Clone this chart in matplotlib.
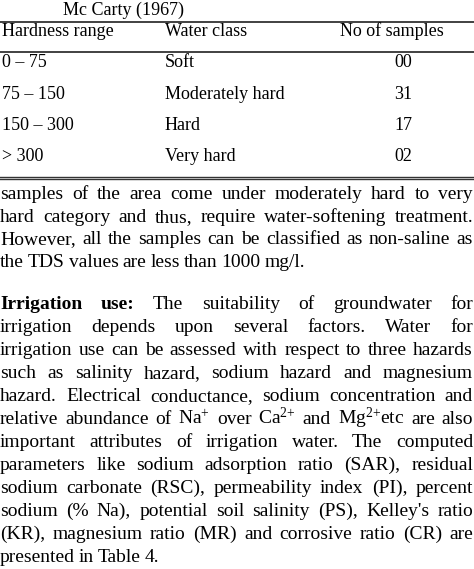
import matplotlib
matplotlib.use("Agg")
import matplotlib.pyplot as plt
from matplotlib.lines import Line2D

plt.rcParams['font.family'] = 'Liberation Serif'
plt.rcParams['mathtext.fontset'] = 'custom'
plt.rcParams['mathtext.rm'] = 'Liberation Serif'
plt.rcParams['mathtext.it'] = 'Liberation Serif:italic'
plt.rcParams['mathtext.bf'] = 'Liberation Serif:bold'
plt.rcParams['mathtext.default'] = 'regular'

W, H = 474, 569
caption = "Mc Carty (1967)"
headers = ["Hardness range", "Water class", "No of samples"]
ranges = ["0 – 75", "75 – 150", "150 – 300", "> 300"]
classes = ["Soft", "Moderately hard", "Hard", "Very hard"]
counts = ["00", "31", "17", "02"]

para1 = [
    "samples of the area come under moderately hard to very",
    "hard category and thus, require water-softening treatment.",
    "However, all the samples can be classified as non-saline as",
    "the TDS values are less than 1000 mg/l.",
]
para2 = [
    "**Irrigation **use: The suitability of groundwater for",
    "irrigation depends upon several factors. Water for",
    "irrigation use can be assessed with respect to three hazards",
    "such as salinity hazard, sodium hazard and magnesium",
    "hazard. Electrical conductance, sodium concentration and",
    "relative abundance of Na$^{+}$ over Ca$^{2{+}}$ and Mg$^{2{+}}$etc are also",
    "important attributes of irrigation water. The computed",
    "parameters like sodium adsorption ratio (SAR), residual",
    "sodium carbonate (RSC), permeability index (PI), percent",
    "sodium (% Na), potential soil salinity (PS), Kelley's ratio",
    "(KR), magnesium ratio (MR) and corrosive ratio (CR) are",
    "presented in Table 4.",
]

fig = plt.figure(figsize=(W / 100, H / 100), dpi=100)
FS = 14
TFS = 13

def T(x, y, s, fs=FS, **kw):
    # y is the visual centre line of lower-case text; place baseline below it
    return fig.text(x / W, 1 - (y + 0.3 * fs) / H, s, fontsize=fs, va='baseline', **kw)

def hline(y, lw=1.3):
    fig.add_artist(Line2D([0, 1], [1 - y / H] * 2, color='#333333', lw=lw))

T(63, 11, caption, fs=TFS)
hline(21.5)
T(2, 32, headers[0], fs=TFS); T(165, 32, headers[1], fs=TFS); T(340, 32, headers[2], fs=TFS)
hline(52)
rows_y = [63, 95, 126, 157]
for y, r, c, n in zip(rows_y, ranges, classes, counts):
    T(2, y, r, fs=TFS); T(165, y, c, fs=TFS); T(403, y, n, fs=TFS, ha='center')
hline(176.5, 1.0); hline(179, 1.0)

renderer = fig.canvas.get_renderer()

def justify(lines, y0, dy, left=0, right=473):
    for i, line in enumerate(lines):
        y = y0 + i * dy
        words = line.replace('**', '').split()
        nbold = 2 if line.startswith('**') else 0
        texts = [T(left, y, w, fontweight=('bold' if k < nbold else 'normal')) for k, w in enumerate(words)]
        widths = [t.get_window_extent(renderer).width for t in texts]
        last = i == len(lines) - 1
        if last or len(words) == 1:
            gap = 4.0
        else:
            gap = (right - left - sum(widths)) / (len(words) - 1)
        x = left
        for t, w in zip(texts, widths):
            t.set_x(x / W)
            x += w + gap

justify(para1, 195, 22.5)
justify(para2, 305, 23.0)

fig.savefig("out.png", dpi=100)
